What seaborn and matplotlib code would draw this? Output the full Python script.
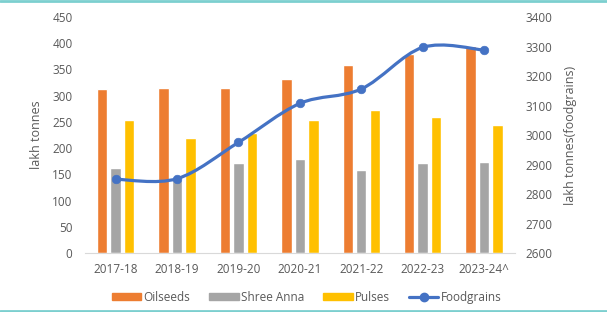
import numpy as np
import pandas as pd
import matplotlib.pyplot as plt
import seaborn as sns
from matplotlib.path import Path
from matplotlib.patches import PathPatch
from matplotlib.lines import Line2D

years = ["2017-18", "2018-19", "2019-20", "2020-21", "2021-22", "2022-23", "2023-24^"]
oilseeds = [312, 314, 315, 332, 359, 380, 395]
shree_anna = [163, 140, 172, 179, 159, 172, 173]
pulses = [254, 220, 229, 254, 273, 260, 244]
foodgrains = [2850, 2852, 2975, 3107, 3156, 3297, 3288]

colors = ["#ED7D31", "#A5A5A5", "#FFC000"]
line_col = "#4472C4"
txt = "#595959"

sns.set_style("white")
plt.rcParams['font.family'] = ['Open Sans', 'DejaVu Sans']

df = pd.DataFrame({"year": years, "Oilseeds": oilseeds,
                   "Shree Anna": shree_anna, "Pulses": pulses})
df_long = df.melt(id_vars="year", var_name="crop", value_name="value")

fig, ax = plt.subplots(figsize=(6.07, 3.12), dpi=100)
fig.subplots_adjust(left=0.14, right=0.848, top=0.9455, bottom=0.189)

sns.barplot(data=df_long, x="year", y="value", hue="crop", palette=colors,
            width=0.66, gap=0.23, ax=ax, legend=False, saturation=1)

ax.set_ylim(0, 450)
ax.set_yticks(range(0, 451, 50))
ax.set_xlim(-0.5, len(years) - 0.5)
ax.set_xlabel("")
ax.set_ylabel("lakh tonnes", color=txt, fontsize=9)
ax.yaxis.set_label_coords(-0.098, 0.5)
ax.tick_params(axis="y", length=0, pad=9, labelsize=8.5, labelcolor=txt)
ax.tick_params(axis="x", length=0, pad=7, labelsize=8.5, labelcolor=txt)
for s in ["left", "right", "top"]:
    ax.spines[s].set_visible(False)
ax.spines["bottom"].set_color("#D9D9D9")

# foodgrains on the right axis
ax2 = ax.twinx()
xs = np.arange(len(years))
fg = np.array(foodgrains, dtype=float)

# smoothed line (Excel style bezier through the points)
verts = [(xs[0], fg[0])]
codes = [Path.MOVETO]
n = len(xs)
for i in range(n - 1):
    p0 = (xs[max(i - 1, 0)], fg[max(i - 1, 0)])
    p1 = (xs[i], fg[i])
    p2 = (xs[i + 1], fg[i + 1])
    p3 = (xs[min(i + 2, n - 1)], fg[min(i + 2, n - 1)])
    c1 = (p1[0] + (p2[0] - p0[0]) / 6, p1[1] + (p2[1] - p0[1]) / 6)
    c2 = (p2[0] - (p3[0] - p1[0]) / 6, p2[1] - (p3[1] - p1[1]) / 6)
    verts += [c1, c2, p2]
    codes += [Path.CURVE4] * 3
ax2.add_patch(PathPatch(Path(verts, codes), facecolor="none",
                        edgecolor=line_col, lw=2.3, zorder=3))
sns.scatterplot(x=xs, y=fg, color=line_col, s=38, edgecolor=line_col,
                ax=ax2, zorder=4, legend=False)

ax2.set_ylim(2600, 3400)
ax2.set_yticks(range(2600, 3401, 100))
ax2.set_ylabel("lakh tonnes(foodgrains)", color=txt, fontsize=9)
ax2.yaxis.set_label_coords(1.115, 0.5)
ax2.tick_params(axis="y", length=0, pad=8, labelsize=8.5, labelcolor=txt)
for s in ["left", "right", "top", "bottom"]:
    ax2.spines[s].set_visible(False)

handles = [plt.Rectangle((0, 0), 1, 1, color=c) for c in colors]
handles.append(Line2D([], [], color=line_col, lw=2.3, marker="o", ms=6))
fig.legend(handles, ["Oilseeds", "Shree Anna", "Pulses", "Foodgrains"],
           loc="center", bbox_to_anchor=(0.505, 0.047), ncol=4, frameon=False,
           fontsize=8.5, labelcolor=txt, handlelength=2.5, handleheight=0.6,
           handletextpad=0.2, columnspacing=1.6)

# teal frame lines top and bottom
fig.add_artist(Line2D([0, 1], [0.997, 0.997], color="#7CCFCF", lw=2,
                      transform=fig.transFigure))
fig.add_artist(Line2D([0, 1], [0.003, 0.003], color="#7CCFCF", lw=2,
                      transform=fig.transFigure))

fig.savefig("out.png", dpi=100)
